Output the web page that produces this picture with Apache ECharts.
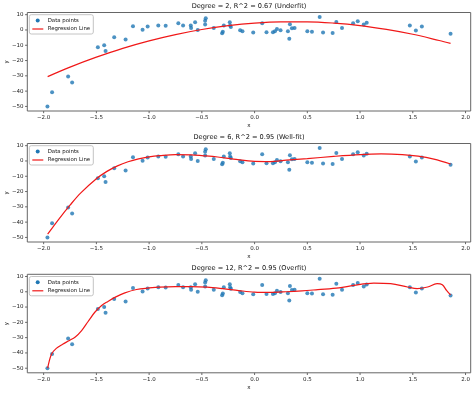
<!DOCTYPE html>
<html><head><meta charset="utf-8">
<script src="https://cdn.jsdelivr.net/npm/echarts@6/dist/echarts.min.js"></script>
<style>html,body{margin:0;padding:0;background:#fff}#c{width:474px;height:394px}</style>
</head><body><div id="c"></div>
<script>
// Scatter data (same in all three panels)
const dataX = [-1.964,-1.920,-1.768,-1.730,-1.486,-1.426,-1.413,-1.331,-1.223,-1.153,-1.062,-1.014,-0.913,-0.843,-0.723,-0.678,-0.605,-0.602,-0.564,-0.539,-0.469,-0.463,-0.469,-0.387,-0.308,-0.301,-0.292,-0.235,-0.232,-0.225,-0.137,-0.115,-0.013,0.072,0.113,0.174,0.193,0.212,0.246,0.316,0.335,0.329,0.354,0.379,0.500,0.544,0.617,0.649,0.740,0.775,0.829,0.934,0.978,1.035,1.063,1.472,1.529,1.586,1.858];
const dataY = [-50.1,-40.7,-30.5,-34.4,-11.3,-10.0,-13.7,-4.8,-6.3,2.4,0.2,2.2,3.0,2.8,4.4,3.0,3.0,1.3,5.0,0.0,6.1,7.6,3.5,1.3,-2.2,-1.1,3.0,5.0,3.0,2.0,-0.2,-0.9,-1.7,4.4,-1.5,-1.5,-0.9,0.7,-0.2,-0.9,3.7,-5.7,1.1,1.3,-0.9,-1.1,8.5,-1.7,-2.0,5.2,1.3,4.4,5.7,3.5,4.8,3.0,-0.4,2.2,-2.4];

// Regression lines
const deg2X = [-1.962,-1.75,-1.5,-1.25,-1.0,-0.75,-0.5,-0.25,0,0.25,0.5,0.75,1.0,1.25,1.5,1.75,1.858];
const deg2Y = [-30.5,-24.3,-17.8,-12.0,-7.1,-3.0,0.3,2.8,4.5,5.3,5.3,4.5,2.9,0.4,-2.8,-6.9,-8.8];

const deg6X = [-1.962,-1.85,-1.75,-1.65,-1.5,-1.4,-1.3,-1.2,-1.1,-1.0,-0.9,-0.75,-0.6,-0.5,-0.35,-0.2,0,0.15,0.3,0.5,0.75,1.0,1.2,1.4,1.55,1.7,1.858];
const deg6Y = [-47.9,-37.5,-28.9,-21.0,-11.6,-6.8,-3.2,-0.5,1.4,2.7,3.5,4.2,4.0,3.5,2.6,1.2,-0.3,-0.4,0.5,1.5,3.0,4.2,4.6,4.2,3.2,1.2,-2.0];

const deg12X = [-1.962,-1.926,-1.88,-1.82,-1.76,-1.70,-1.64,-1.58,-1.515,-1.45,-1.39,-1.32,-1.23,-1.12,-1.0,-0.9,-0.75,-0.6,-0.45,-0.3,-0.15,0,0.15,0.3,0.45,0.6,0.8,0.94,1.13,1.29,1.45,1.54,1.64,1.73,1.78,1.82,1.858];
const deg12Y = [-50.0,-40.8,-37.0,-34.3,-32.0,-29.6,-25.4,-19.6,-13.4,-9.0,-6.3,-3.5,-0.7,1.5,2.5,3.1,3.4,3.4,3.0,2.0,0.8,-0.2,-0.4,0.0,0.6,1.4,2.5,4.2,5.7,5.3,3.1,2.0,3.1,5.3,4.6,0.9,-2.0];

const xTicks = [-2,-1.5,-1,-0.5,0,0.5,1,1.5,2];
const yTicks = [-50,-40,-30,-20,-10,0,10];
const titles = ['Degree = 2, R^2 = 0.67 (Underfit)','Degree = 6, R^2 = 0.95 (Well-fit)','Degree = 12, R^2 = 0.95 (Overfit)'];
const legendNames = ['Data points', 'Regression Line'];
const fitX = [deg2X, deg6X, deg12X];
const fitY = [deg2Y, deg6Y, deg12Y];

const FONT = 'DejaVu Sans';
const tops = [12.5, 143.5, 274.3];
const H = 98.5, L = 27.3, R = 3.3, W = 474;
const minus = v => (v < 0 ? '\u2212' : '');
const fmtX = v => minus(v) + Math.abs(v).toFixed(1);
const fmtY = v => minus(v) + Math.abs(Math.round(v));
const spine = '#666666';
const BLUE = '#1f77b4', RED = '#f01818';
const XMIN = -2.155, XMAX = 2.049, YMIN = -53.0, YMAX = 11.43;

// titles and legends as graphic elements
const graphics = [];
tops.forEach((t, i) => {
  graphics.push({ type: 'text', x: (L + W - R) / 2, y: t - 5.9, z: 10,
    style: { text: titles[i], fill: '#111', font: 'normal 6.6px "DejaVu Sans"', textAlign: 'center', textVerticalAlign: 'middle' } });
  graphics.push({ type: 'rect', x: L + 2, y: t + 2.2, z: 10,
    shape: { x: 0, y: 0, width: 64, height: 19.3, r: 2 },
    style: { fill: 'rgba(255,255,255,0.8)', stroke: '#c4c4c4', lineWidth: 1 } });
  graphics.push({ type: 'circle', x: L + 10.4, y: t + 7.9, z: 11,
    shape: { cx: 0, cy: 0, r: 2 }, style: { fill: BLUE } });
  graphics.push({ type: 'line', x: L + 5, y: t + 16.5, z: 11,
    shape: { x1: 0, y1: 0, x2: 11, y2: 0 }, style: { stroke: RED, lineWidth: 1.2 } });
  graphics.push({ type: 'text', x: L + 20.4, y: t + 7.9, z: 11,
    style: { text: legendNames[0], fill: '#111', font: 'normal 5.4px "DejaVu Sans"', textAlign: 'left', textVerticalAlign: 'middle' } });
  graphics.push({ type: 'text', x: L + 20.4, y: t + 16.5, z: 11,
    style: { text: legendNames[1], fill: '#111', font: 'normal 5.4px "DejaVu Sans"', textAlign: 'left', textVerticalAlign: 'middle' } });
});

const option = {
  animation: false,
  backgroundColor: '#fff',
  graphic: { elements: graphics },
  grid: tops.map(t => ({ left: L, right: R, top: t, height: H, show: false, containLabel: false, outerBoundsMode: 'none' })),
  xAxis: tops.map((t, i) => ({
    type: 'value', gridIndex: i, min: XMIN, max: XMAX, position: 'bottom',
    name: 'x', nameLocation: 'middle', nameGap: 11.5, nameMoveOverlap: false,
    nameTextStyle: { fontFamily: FONT, fontSize: 5.5, color: '#111' },
    axisLine: { show: false, onZero: false }, splitLine: { show: false }, axisTick: { show: false },
    axisLabel: { customValues: xTicks, formatter: fmtX, margin: 3.8, fontFamily: FONT, fontSize: 5.5, color: '#222' }
  })),
  yAxis: tops.map((t, i) => ({
    type: 'value', gridIndex: i, min: YMIN, max: YMAX, position: 'left',
    name: 'y', nameLocation: 'middle', nameGap: 18, nameMoveOverlap: false,
    nameTextStyle: { fontFamily: FONT, fontSize: 5.5, color: '#111' },
    axisLine: { show: false, onZero: false }, splitLine: { show: false }, axisTick: { show: false },
    axisLabel: { customValues: yTicks, formatter: fmtY, margin: 3.8, fontFamily: FONT, fontSize: 5.5, color: '#222' }
  })),
  series: []
};

function tickItem(dir) {
  return function (params, api) {
    const p = api.coord([api.value(0), api.value(1)]);
    const shape = dir === 'x'
      ? { x1: p[0], y1: p[1], x2: p[0], y2: p[1] + 2.2 }
      : { x1: p[0], y1: p[1], x2: p[0] - 2.2, y2: p[1] };
    return { type: 'line', shape: shape, style: { stroke: spine, lineWidth: 1 } };
  };
}

for (let i = 0; i < 3; i++) {
  // plot frame (spines) along the axis limits
  option.series.push({
    type: 'line', xAxisIndex: i, yAxisIndex: i, silent: true, clip: false,
    symbol: 'none', showSymbol: false, z: 1,
    lineStyle: { color: spine, width: 1 },
    data: [[XMIN, YMIN], [XMAX, YMIN], [XMAX, YMAX], [XMIN, YMAX], [XMIN, YMIN]]
  });
  // tick marks
  option.series.push({
    type: 'custom', xAxisIndex: i, yAxisIndex: i, silent: true, clip: false, z: 1,
    renderItem: tickItem('x'), data: xTicks.map(v => [v, YMIN])
  });
  option.series.push({
    type: 'custom', xAxisIndex: i, yAxisIndex: i, silent: true, clip: false, z: 1,
    renderItem: tickItem('y'), data: yTicks.map(v => [XMIN, v])
  });
  option.series.push({
    type: 'scatter', name: legendNames[0], xAxisIndex: i, yAxisIndex: i,
    symbol: 'circle', symbolSize: 4, itemStyle: { color: BLUE },
    data: dataX.map((x, k) => [x, dataY[k]]), z: 2
  });
  option.series.push({
    type: 'line', name: legendNames[1], xAxisIndex: i, yAxisIndex: i,
    symbol: 'none', showSymbol: false, smooth: 0.35,
    lineStyle: { color: RED, width: 1.2 }, itemStyle: { color: RED },
    data: fitX[i].map((x, k) => [x, fitY[i][k]]), z: 3
  });
}

const chart = echarts.init(document.getElementById('c'));
chart.setOption(option);
</script>
</body></html>
